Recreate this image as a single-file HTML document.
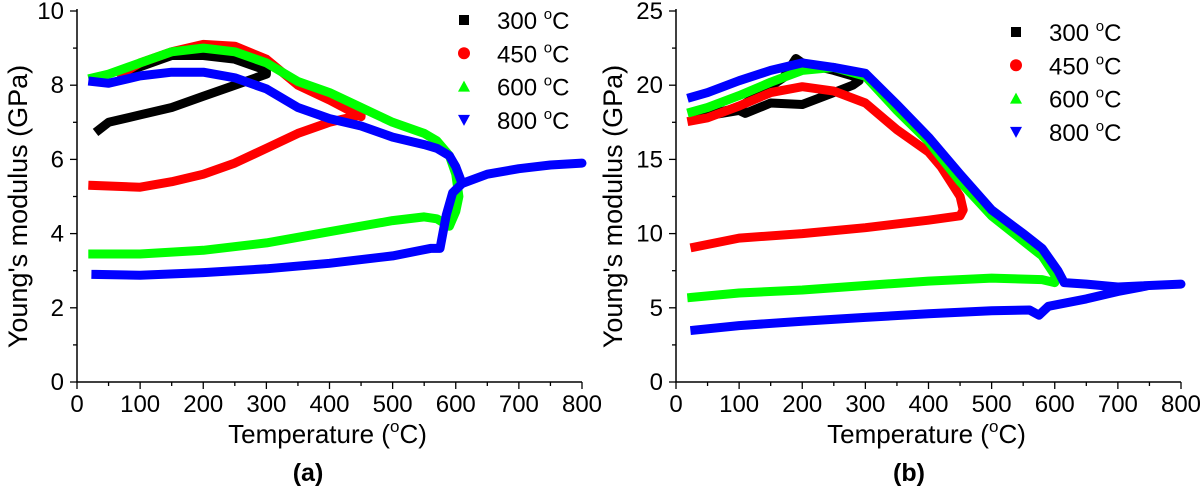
<!DOCTYPE html>
<html><head><meta charset="utf-8"><style>
body{margin:0;background:#fff;}
svg{display:block;font-family:"Liberation Sans",Arial,sans-serif;}
</style></head><body>
<svg id="fig" width="1200" height="498" viewBox="0 0 1200 498"></svg>
<script>
// ---- Panel (a) data ----
const a300x=[35,50,100,150,200,250,300,300,250,200,150,100,70];
const a300y=[6.8,7.0,7.2,7.4,7.7,8.0,8.3,8.4,8.7,8.8,8.8,8.5,8.3];
const a450x=[25,100,150,200,250,300,350,400,450,450,400,350,300,250,200,150,100,70];
const a450y=[5.3,5.25,5.4,5.6,5.9,6.3,6.7,7.0,7.2,7.15,7.6,8.0,8.7,9.05,9.1,8.9,8.6,8.3];
const a600x=[25,100,200,300,400,500,550,570,590,600,605,600,590,570,550,500,450,400,350,300,250,200,150,100,50,25];
const a600y=[3.45,3.45,3.55,3.75,4.05,4.35,4.45,4.4,4.2,4.6,5.0,5.6,6.1,6.5,6.7,7.0,7.4,7.8,8.1,8.6,8.9,9.0,8.9,8.6,8.3,8.2];
const a800x=[30,100,200,300,400,500,560,575,585,595,610,650,700,750,800,750,700,650,610,600,590,570,550,500,450,400,350,300,250,200,150,100,50,25];
const a800y=[2.9,2.88,2.95,3.05,3.2,3.4,3.6,3.6,4.5,5.1,5.35,5.6,5.75,5.85,5.9,5.85,5.75,5.6,5.35,5.8,6.1,6.3,6.4,6.6,6.9,7.1,7.4,7.9,8.2,8.35,8.35,8.25,8.05,8.1];
// ---- Panel (b) data ----
const b300x=[30,100,110,150,200,250,280,290,290,250,200,190,170,100,30];
const b300y=[17.8,18.3,18.1,18.8,18.7,19.5,20.0,20.3,20.5,21.0,21.5,21.8,20.5,18.5,17.8];
const b450x=[30,100,200,300,400,450,455,450,420,400,350,300,250,200,150,100,50,25];
const b450y=[9.1,9.7,10.0,10.4,10.9,11.2,11.6,12.5,14.5,15.5,17.0,18.8,19.6,19.9,19.5,18.6,17.8,17.6];
const b600x=[25,100,200,300,400,500,580,600,600,580,550,500,450,400,350,300,250,200,150,100,50,25];
const b600y=[5.7,6.0,6.2,6.5,6.8,7.0,6.9,6.7,7.2,8.5,9.5,11.2,13.5,16.2,18.3,20.6,21.2,21.0,20.2,19.3,18.5,18.2];
const b800x=[30,100,200,300,400,500,560,575,590,650,700,750,800,750,700,650,615,605,580,550,500,450,400,350,300,250,200,150,100,50,25];
const b800y=[3.5,3.8,4.1,4.35,4.6,4.8,4.85,4.5,5.1,5.6,6.1,6.5,6.6,6.5,6.4,6.6,6.7,7.5,9.0,10.0,11.6,14.0,16.5,18.7,20.8,21.2,21.5,21.0,20.3,19.5,19.2];
const xTicks=[0,100,200,300,400,500,600,700,800];
const aYTicks=[0,2,4,6,8,10];
const bYTicks=[0,5,10,15,20,25];
const seriesNames=["300","450","600","800"];
const colors=["#000","#f00","#0f0","#00f"];

const NS="http://www.w3.org/2000/svg";
const svg=document.getElementById('fig');
function mk(tag,attrs,parent){const e=document.createElementNS(NS,tag);for(const k in attrs)e.setAttribute(k,attrs[k]);(parent||svg).appendChild(e);return e;}

function panel(id,x0,x1,y0,y1,ymax,yTicks,yMinorStep,series,leg,label,labelX,yTitleX){
  const g=mk('g',{});
  
  
  const sx=v=>x0+(v/800)*(x1-x0);
  const sy=v=>y0-(v/ymax)*(y0-y1);
  series.forEach((s,i)=>{
    const d=s[0].map((v,j)=>(j?'L':'M')+sx(v).toFixed(1)+' '+sy(s[1][j]).toFixed(1)).join(' ');
    const p=mk('path',{d:d,fill:'none',stroke:colors[i],'stroke-width':9,'stroke-linejoin':'round','stroke-linecap':'square'},g);
    
    
  });
  const ax=mk('path',{d:`M${x0} ${y1-2} L${x0} ${y0} L${x1} ${y0}`,fill:'none',stroke:'#000','stroke-width':1.5},g);
  
  
  for(let v=0;v<=800;v+=50){const X=sx(v);mk('line',{x1:X,y1:y0,x2:X,y2:y0+(v%100?4:7),stroke:'#000','stroke-width':1.3},g);}
  xTicks.forEach(v=>{const t=mk('text',{x:sx(v),y:y0+30,'text-anchor':'middle','font-size':24},g);t.textContent=v;
    
    });
  for(let v=0;v<=ymax+1e-9;v+=yMinorStep){const Y=sy(v);const major=yTicks.some(t=>Math.abs(t-v)<1e-6);mk('line',{x1:x0,y1:Y,x2:x0-(major?7:4),y2:Y,stroke:'#000','stroke-width':1.3},g);}
  yTicks.forEach(v=>{const t=mk('text',{x:x0-13,y:sy(v)+8,'text-anchor':'end','font-size':24},g);t.textContent=v;
    
    });
  const xt=mk('text',{x:(x0+x1)/2-2,y:y0+61,'text-anchor':'middle','font-size':26},g);
  xt.innerHTML='Temperature (<tspan dy="-11" font-size="17">o</tspan><tspan dy="11">C)</tspan>';
  
  
  const yt=mk('text',{x:0,y:0,'text-anchor':'middle','font-size':27,transform:`translate(${yTitleX},${(y0+y1)/2+10}) rotate(-90)`},g);
  yt.textContent="Young's modulus (GPa)";
  
  
  const pl=mk('text',{x:labelX,y:481,'text-anchor':'middle','font-size':25,'font-weight':'bold'},g);
  pl.textContent=label;
  
  
  seriesNames.forEach((n,i)=>{
    const Y=leg[1]+i*33.3;const mx=leg[0];
    let m;
    if(i==0)m=mk('rect',{x:mx-5,y:Y-5,width:10,height:10,fill:colors[i]},g);
    else if(i==1)m=mk('circle',{cx:mx,cy:Y,r:6,fill:colors[i]},g);
    else if(i==2)m=mk('path',{d:`M${mx-6} ${Y+5} L${mx+6} ${Y+5} L${mx} ${Y-6}Z`,fill:colors[i]},g);
    else m=mk('path',{d:`M${mx-6} ${Y-5} L${mx+6} ${Y-5} L${mx} ${Y+6}Z`,fill:colors[i]},g);
    
    
    const t=mk('text',{x:mx+33,y:Y+9,'font-size':24},g);
    t.innerHTML=n+' <tspan dy="-10" font-size="15">o</tspan><tspan dy="10">C</tspan>';
    
    
  });
}
panel('a',77,582,382,11,10,aYTicks,1,[[a300x,a300y],[a450x,a450y],[a600x,a600y],[a800x,a800y]],[464,20],'(a)',308,27);
panel('b',676,1181,382,11,25,bYTicks,2.5,[[b300x,b300y],[b450x,b450y],[b600x,b600y],[b800x,b800y]],[1016,32],'(b)',909,622);
</script>
</body></html>
